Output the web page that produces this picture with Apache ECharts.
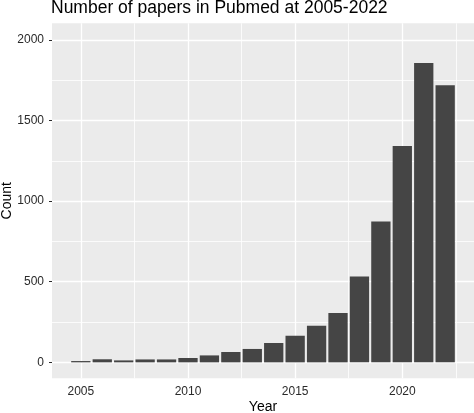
<!DOCTYPE html>
<html><head><meta charset="utf-8">
<script src="https://cdn.jsdelivr.net/npm/echarts@6/dist/echarts.min.js"></script>
<style>html,body{margin:0;padding:0;background:#fff}#c{width:474px;height:413px}</style>
</head><body><div id="c"></div>
<script>
const years = [2005,2006,2007,2008,2009,2010,2011,2012,2013,2014,2015,2016,2017,2018,2019,2020,2021,2022];
const counts = [8,19,12,18,18,27,43,64,83,120,165,227,306,533,874,1342,1856,1718];
const xTickLabels = [2005,2010,2015,2020];
const xMinorGrid = [2007.5,2012.5,2017.5,2022.5];
const yTickLabels = [0,500,1000,1500,2000];
const yMinorGrid = [250,750,1250,1750];

const chart = echarts.init(document.getElementById('c'));
const majorStyle = {color:'#ffffff', width:1.3, type:'solid'};
const minorStyle = {color:'#ffffff', width:0.8, type:'solid'};
const gridLines = []
  .concat(xTickLabels.map(v=>({xAxis:v, lineStyle:majorStyle})))
  .concat(xMinorGrid.map(v=>({xAxis:v, lineStyle:minorStyle})))
  .concat(yTickLabels.map(v=>({yAxis:v, lineStyle:majorStyle})))
  .concat(yMinorGrid.map(v=>({yAxis:v, lineStyle:minorStyle})));

const txt = '#2a2a2a';
chart.setOption({
  animation:false,
  textStyle:{fontFamily:'Liberation Sans, Arial, sans-serif'},
  title:{text:'Number of papers in Pubmed at 2005-2022', left:51, top:-1, padding:0,
    textStyle:{fontSize:17.5, fontWeight:'normal', color:'#000'}},
  grid:{left:52, right:0, top:23.3, bottom:34.7, containLabel:false, outerBoundsMode:'none',
    show:true, backgroundColor:'#ebebeb', borderWidth:0},
  xAxis:{type:'value', min:2003.655, max:2023.345,
    name:'Year', nameLocation:'middle', nameGap:22, nameMoveOverlap:false, nameTextStyle:{fontSize:14, color:'#000'},
    axisLine:{show:false}, splitLine:{show:false},
    axisTick:{show:true, length:3, lineStyle:{color:txt}, customValues:xTickLabels},
    axisLabel:{fontSize:12, color:txt, margin:7, customValues:xTickLabels, formatter:v=>String(v)}},
  yAxis:{type:'value', min:-99, max:2103,
    name:'Count', nameLocation:'middle', nameGap:38, nameMoveOverlap:false, nameTextStyle:{fontSize:14, color:'#000'},
    axisLine:{show:false}, splitLine:{show:false},
    axisTick:{show:true, length:3, lineStyle:{color:txt}, customValues:yTickLabels},
    axisLabel:{fontSize:12, color:txt, margin:8, customValues:yTickLabels, formatter:v=>String(v)}},
  series:[
    {type:'line', z:1, data:[[2005,0]], symbol:'none', lineStyle:{opacity:0}, silent:true,
     markLine:{z:1, silent:true, symbol:['none','none'], label:{show:false}, animation:false, data:gridLines}},
    {type:'bar', z:3, barWidth:19.3, itemStyle:{color:'#454545'},
     data:years.map((y,i)=>[y,counts[i]])}
  ]
});
</script></body></html>
